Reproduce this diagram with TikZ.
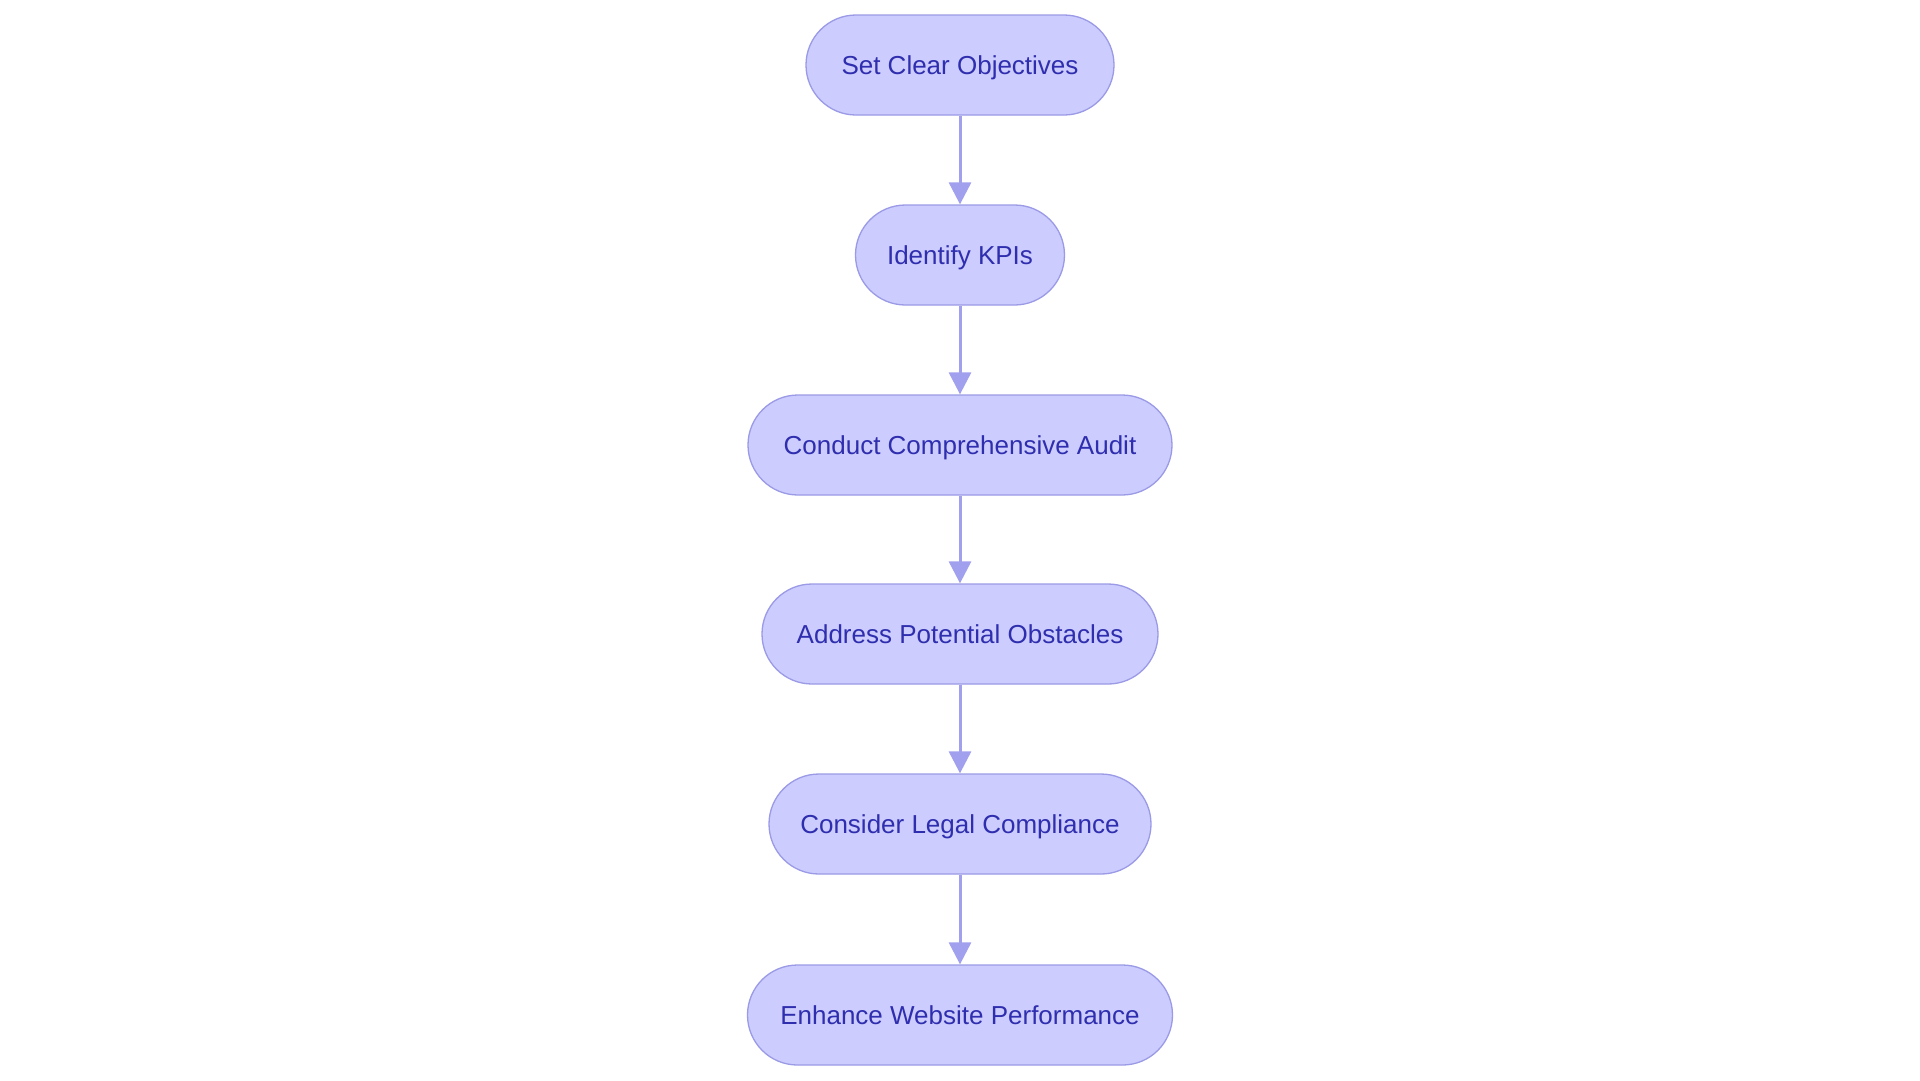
\documentclass[tikz,border=0pt]{standalone}
\usepackage{fontspec}
\setmainfont{Liberation Sans}
\usetikzlibrary{arrows.meta}
\definecolor{nodefill}{HTML}{CCCCFF}
\definecolor{nodedraw}{HTML}{9A9AE6}
\definecolor{nodetext}{HTML}{2E2EAE}
\definecolor{arrowcol}{HTML}{A0A0EE}
\begin{document}
\begin{tikzpicture}[x=1pt,y=-1pt,
  stadium/.style={draw=nodedraw,line width=1.3pt,fill=nodefill,text=nodetext,
    rounded corners=50pt,minimum height=100pt,inner sep=0pt,
    text height=19pt,text depth=0pt,
    font=\fontsize{26}{30}\selectfont},
  flow/.style={draw=arrowcol,line width=3pt,-{Triangle[width=22pt,length=22pt]}}]
\path[use as bounding box,fill=white] (0,0) rectangle (1920,1080);
\node[stadium,minimum width=308pt] (n1) at (960,65) {Set Clear Objectives};
\node[stadium,minimum width=209pt] (n2) at (960,255) {Identify KPIs};
\node[stadium,minimum width=424pt] (n3) at (960,445) {Conduct Comprehensive Audit};
\node[stadium,minimum width=396pt] (n4) at (960,634) {Address Potential Obstacles};
\node[stadium,minimum width=382pt] (n5) at (960,824) {Consider Legal Compliance};
\node[stadium,minimum width=425pt] (n6) at (960,1015) {Enhance Website Performance};
\draw[flow] (n1) -- (n2);
\draw[flow] (n2) -- (n3);
\draw[flow] (n3) -- (n4);
\draw[flow] (n4) -- (n5);
\draw[flow] (n5) -- (n6);
\end{tikzpicture}
\end{document}
